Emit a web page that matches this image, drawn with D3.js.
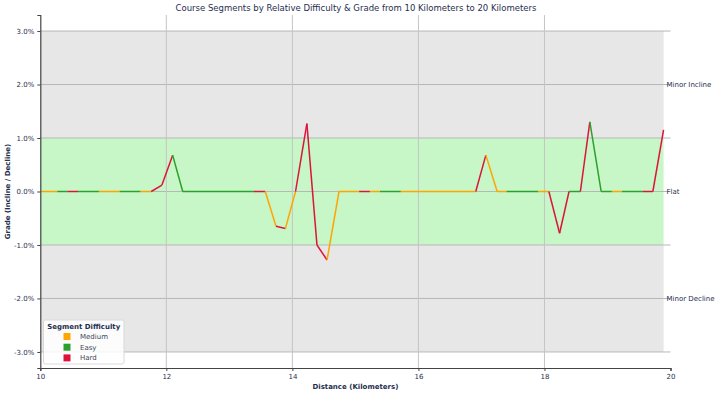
<!DOCTYPE html>
<html>
<head>
<meta charset="utf-8">
<script src="https://cdn.jsdelivr.net/npm/d3@7"></script>
<style>
	body { margin: 0; background: #fff; }
	svg text { font-family: 'DejaVu Sans', sans-serif; fill: #1f2f4f; }
</style>
</head>
<body>
<div id="chart"></div>
<script>
// distance (km) of each point along the course
let distances	= [10.00, 10.27, 10.43, 10.60, 10.93, 11.26, 11.59, 11.76, 11.93, 12.10,
	12.26, 13.39, 13.57, 13.74, 13.89, 14.05, 14.23, 14.39, 14.55, 14.74,
	15.06, 15.23, 15.39, 15.72, 16.91, 17.07, 17.25, 17.40, 17.90, 18.07,
	18.24, 18.39, 18.57, 18.72, 18.90, 19.07, 19.23, 19.56, 19.72, 19.89];

// grade (%) at each point
let grades		= [0, 0, 0, 0, 0, 0, 0, 0, 0.12, 0.68,
	0, 0, 0, -0.65, -0.69, 0, 1.27, -1.0, -1.28, 0,
	0, 0, 0, 0, 0, 0.68, 0, 0, 0, 0,
	-0.78, 0, 0, 1.30, 0, 0, 0, 0, 0, 1.15];

// difficulty of each segment (point i -> i + 1)
let difficulty	= ['Medium', 'Easy', 'Hard', 'Easy', 'Medium', 'Easy', 'Medium', 'Hard', 'Hard', 'Easy',
	'Easy', 'Hard', 'Medium', 'Hard', 'Medium', 'Hard', 'Hard', 'Hard', 'Medium', 'Medium',
	'Hard', 'Medium', 'Easy', 'Medium', 'Hard', 'Medium', 'Medium', 'Easy', 'Medium', 'Hard',
	'Hard', 'Easy', 'Hard', 'Easy', 'Easy', 'Medium', 'Easy', 'Hard', 'Hard'];

let levels		= ['Medium', 'Easy', 'Hard'];
let yTicks		= [-3, -2, -1, 0, 1, 2, 3];
let xTicks		= [10, 12, 14, 16, 18, 20];
let zoneNames	= ['Minor Decline', 'Flat', 'Minor Incline'];
let zoneGrades	= [-2, 0, 2];
let bandLow		= [-3, -1, 1];
let bandHigh	= [-1, 1, 3];
let bandKind	= ['grey', 'green', 'grey'];

let colors		= { Medium: '#ffa500', Easy: '#2ca02c', Hard: '#dc143c' };
let bandFill	= { grey: '#e7e7e7', green: '#c7f6c7' };

let canvasWidth		= 720;
let canvasHeight	= 395;
let margin			= { top: 15, right: 49.5, bottom: 27, left: 40.3 };
let width			= canvasWidth - margin.left - margin.right;
let height			= canvasHeight - margin.top - margin.bottom;

let x = d3.scaleLinear().domain([10, 20]).range([0, width]);
let y = d3.scaleLinear().domain([-3.3, 3.3]).range([height, 0]);

let svg = d3.select('#chart').append('svg')
	.attr('width', canvasWidth)
	.attr('height', canvasHeight);

svg.append('text')
	.attr('x', 356)
	.attr('y', 11)
	.attr('text-anchor', 'middle')
	.style('font-size', '8.5px')
	.text('Course Segments by Relative Difficulty & Grade from 10 Kilometers to 20 Kilometers');

let canvas = svg.append('g')
	.attr('transform', 'translate(' + margin.left + ',' + margin.top + ')');

// difficulty bands
let xStart	= d3.min(distances);
let xEnd	= d3.max(distances);
canvas.append('g').selectAll('rect').data(bandKind).enter().append('rect')
	.attr('x', x(xStart))
	.attr('width', x(xEnd) - x(xStart))
	.attr('y', (d, i) => y(bandHigh[i]))
	.attr('height', (d, i) => y(bandLow[i]) - y(bandHigh[i]))
	.attr('fill', d => bandFill[d]);

// grid
canvas.append('g').selectAll('line').data(yTicks).enter().append('line')
	.attr('x1', 0).attr('x2', width)
	.attr('y1', d => y(d)).attr('y2', d => y(d))
	.attr('stroke', '#b7b7b7').attr('stroke-width', 1);

canvas.append('g').selectAll('line').data(xTicks.slice(1, -1)).enter().append('line')
	.attr('y1', 0).attr('y2', height)
	.attr('x1', d => x(d)).attr('x2', d => x(d))
	.attr('stroke', '#c4c4c4').attr('stroke-width', 1);

// segments
let segLine = d3.line().x(d => x(d[0])).y(d => y(d[1]));
canvas.append('g').selectAll('path').data(difficulty).enter().append('path')
	.attr('d', (d, i) => segLine([[distances[i], grades[i]], [distances[i + 1], grades[i + 1]]]))
	.attr('fill', 'none')
	.attr('stroke', d => colors[d])
	.attr('stroke-width', 1.5)
	.attr('stroke-linecap', 'butt');

// axes
let xAxis = canvas.append('g')
	.attr('transform', 'translate(0,' + height + ')')
	.call(d3.axisBottom(x).tickValues(xTicks).tickFormat(d3.format('d')).tickSize(3).tickPadding(3));

let yAxis = canvas.append('g')
	.call(d3.axisLeft(y).tickValues(yTicks).tickFormat(d => d.toFixed(1) + '%').tickSize(3).tickPadding(3));

[xAxis, yAxis].forEach(a => {
	a.select('.domain').attr('stroke', '#444').attr('stroke-width', 1.2);
	a.selectAll('.tick line').attr('stroke', '#444');
	a.selectAll('.tick text').style('font-size', '7px').attr('fill', '#2a3a5a');
});

// zone labels on the right
canvas.append('g').selectAll('text').data(zoneNames).enter().append('text')
	.attr('x', x(xEnd) + 3)
	.attr('y', (d, i) => y(zoneGrades[i]))
	.attr('dy', '0.35em')
	.style('font-size', '7px')
	.text(d => d);

// axis titles
svg.append('text')
	.attr('x', margin.left + width / 2)
	.attr('y', 389)
	.attr('text-anchor', 'middle')
	.style('font-size', '7px')
	.style('font-weight', 'bold')
	.text('Distance (Kilometers)');

svg.append('text')
	.attr('transform', 'translate(10,' + (margin.top + height / 2) + ') rotate(-90)')
	.attr('text-anchor', 'middle')
	.style('font-size', '7px')
	.style('font-weight', 'bold')
	.text('Grade (Incline / Decline)');

// legend
let legend = svg.append('g').attr('transform', 'translate(43.5,320)');
legend.append('rect')
	.attr('width', 80.5).attr('height', 44)
	.attr('rx', 2)
	.attr('fill', '#fff').attr('fill-opacity', 0.85)
	.attr('stroke', '#d9d9d9');
legend.append('text')
	.attr('x', 40.2).attr('y', 8.5)
	.attr('text-anchor', 'middle')
	.style('font-size', '7px')
	.style('font-weight', 'bold')
	.text('Segment Difficulty');
let items = legend.selectAll('g.item').data(levels).enter().append('g')
	.attr('class', 'item')
	.attr('transform', (d, i) => 'translate(0,' + (16.5 + i * 10.7) + ')');
items.append('rect')
	.attr('x', 20).attr('y', -3.5)
	.attr('width', 7).attr('height', 7)
	.attr('fill', d => colors[d]);
items.append('text')
	.attr('x', 36.5).attr('dy', '0.35em')
	.style('font-size', '7px')
	.attr('fill', '#3a4658')
	.style('fill', '#3a4658')
	.text(d => d);
</script>
</body>
</html>
